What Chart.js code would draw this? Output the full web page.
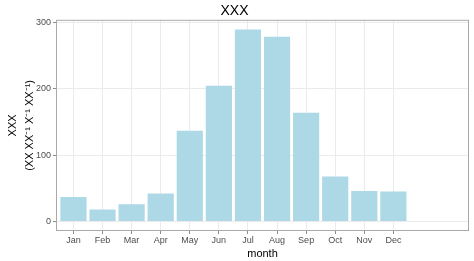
<!DOCTYPE html>
<html>
<head>
<meta charset="utf-8">
<script src="https://cdn.jsdelivr.net/npm/chart.js@4"></script>
<style>
  html, body { margin: 0; padding: 0; background: #fff; }
  #wrap { width: 474px; height: 261px; }
</style>
</head>
<body>
<div id="wrap"><canvas id="chart" width="474" height="261"></canvas></div>
<script>
const months = ['Jan', 'Feb', 'Mar', 'Apr', 'May', 'Jun', 'Jul', 'Aug', 'Sep', 'Oct', 'Nov', 'Dec'];
const values = [37, 18, 26, 42, 137, 205, 290, 279, 164, 68, 46, 45];
const yTicks = [0, 100, 200, 300];

const tickFont = { family: 'Liberation Sans, Arial, sans-serif', size: 9 };
const titleFont = { family: 'Liberation Sans, Arial, sans-serif', size: 11 };

// panel border like ggplot theme_bw
const panelBorder = {
    id: 'panelBorder',
    afterDraw(chart) {
        const { ctx, chartArea: a } = chart;
        ctx.save();
        ctx.strokeStyle = '#a9a9a9';
        ctx.lineWidth = 1;
        ctx.strokeRect(a.left + 0.5, a.top + 0.5, a.right - a.left - 1, a.bottom - a.top - 1);
        ctx.restore();
    }
};

// month i sits at x = i + 1; the panel runs on to 14.6 like the original
const points = months.map((m, i) => ({ x: i + 1, y: values[i] }));

new Chart(document.getElementById('chart').getContext('2d'), {
    type: 'bar',
    data: {
        datasets: [{
            data: points,
            backgroundColor: '#add8e6',
            borderWidth: 0,
            categoryPercentage: 0.9,
            barPercentage: 1
        }]
    },
    options: {
        responsive: false,
        animation: false,
        layout: { padding: { left: 0, right: 5, top: 0, bottom: 0 } },
        plugins: {
            legend: { display: false },
            tooltip: { enabled: false },
            title: {
                display: true,
                text: 'XXX',
                color: '#000',
                font: { family: 'Liberation Sans, Arial, sans-serif', size: 14, weight: 'normal' },
                padding: { top: 3, bottom: 0 }
            }
        },
        scales: {
            x: {
                type: 'linear',
                min: 0.4,
                max: 14.6,
                offset: false,
                afterBuildTicks(scale) { scale.ticks = months.map((m, i) => ({ value: i + 1 })); },
                grid: { offset: false, color: '#ebebeb', tickColor: '#8c8c8c', tickLength: 3 },
                border: { display: false },
                ticks: {
                    color: '#4d4d4d', font: tickFont, padding: 1, maxRotation: 0, autoSkip: false,
                    callback: v => months[v - 1]
                },
                title: { display: true, text: 'month', color: '#000', font: titleFont, padding: { top: 0, bottom: 0 } },
                afterFit(scale) { scale.height = 30; }
            },
            y: {
                min: -14.5,
                max: 304.5,
                afterBuildTicks(scale) { scale.ticks = yTicks.map(v => ({ value: v })); },
                grid: { color: '#ebebeb', tickColor: '#8c8c8c', tickLength: 3 },
                border: { display: false },
                ticks: { color: '#4d4d4d', font: tickFont, padding: 2 },
                title: {
                    display: true,
                    text: ['XXX', '(XX XX\u207B\u00B9 X\u207B\u00B9 XX\u207B\u00B9)'],
                    color: '#000',
                    font: { family: 'Liberation Sans, Arial, sans-serif', size: 11, lineHeight: 1.6 },
                    padding: { top: 4, bottom: 0 }
                },
                afterFit(scale) { scale.width = 56; }
            }
        }
    },
    plugins: [panelBorder]
});
</script>
</body>
</html>
